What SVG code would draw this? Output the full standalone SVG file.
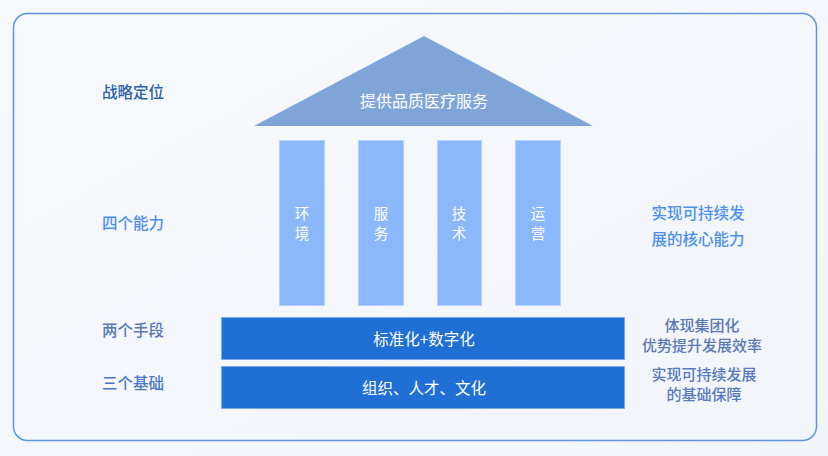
<svg xmlns="http://www.w3.org/2000/svg" width="828" height="456" viewBox="0 0 828 456">
<defs>
<linearGradient id="bg" x1="0" y1="0" x2="1" y2="1">
<stop offset="0" stop-color="#f6fafd"/>
<stop offset="1" stop-color="#f1f5fa"/>
</linearGradient>
</defs>
<style>
text{font-family:"Noto Sans CJK SC","Noto Sans",sans-serif;font-size:15.5px;font-weight:500;text-anchor:middle;dominant-baseline:central}
.w{fill:#ffffff;font-weight:400}
.p{font-size:14.5px}
.s{font-size:15px}
.pillar{fill:#8ab8fa;stroke:#b5d3fb;stroke-width:1}
.bar{fill:#1f6fd4;stroke:#7aa9ea;stroke-width:1}
</style>
<rect x="0" y="0" width="828" height="456" fill="url(#bg)"/>
<rect x="13.5" y="13.5" width="803" height="427" rx="14" fill="none" stroke="#5d95e2" stroke-width="1.5"/>
<g id="labels-left">
<text x="133" y="91" fill="#2c5eae">战略定位</text>
<text x="133" y="222" fill="#4c8ff0">四个能力</text>
<text x="133" y="329" fill="#5a78b6">两个手段</text>
<text x="133" y="382" fill="#4a78c6">三个基础</text>
</g>
<g id="roof">
<polygon points="424,36 254,126 593,126" fill="#7fa5d8"/>
<text class="w" x="424" y="100" style="font-size:16px">提供品质医疗服务</text>
</g>
<g id="pillar-1"><rect class="pillar" x="279.5" y="140.5" width="45" height="165"/><text class="w p" x="302" y="212">环</text><text class="w p" x="302" y="232">境</text></g>
<g id="pillar-2"><rect class="pillar" x="358.5" y="140.5" width="45" height="165"/><text class="w p" x="381" y="212">服</text><text class="w p" x="381" y="232">务</text></g>
<g id="pillar-3"><rect class="pillar" x="437.5" y="140.5" width="44" height="165"/><text class="w p" x="459" y="212">技</text><text class="w p" x="459" y="232">术</text></g>
<g id="pillar-4"><rect class="pillar" x="515.5" y="140.5" width="45" height="165"/><text class="w p" x="538" y="212">运</text><text class="w p" x="538" y="232">营</text></g>
<g id="bar-1"><rect class="bar" x="221.5" y="317.5" width="403" height="42"/><text class="w" x="424" y="338">标准化+数字化</text></g>
<g id="bar-2"><rect class="bar" x="221.5" y="366.5" width="403" height="42"/><text class="w" x="424" y="387">组织、人才、文化</text></g>
<g id="labels-right">
<text x="698" y="212" fill="#4c8ff0">实现可持续发</text>
<text x="698" y="238" fill="#4c8ff0">展的核心能力</text>
<text class="s" x="702" y="324" fill="#5a78b6">体现集团化</text>
<text class="s" x="702" y="344" fill="#5a78b6">优势提升发展效率</text>
<text class="s" x="704" y="373" fill="#5878c0">实现可持续发展</text>
<text class="s" x="704" y="393" fill="#5878c0">的基础保障</text>
</g>
<g id="connectors"></g>
</svg>
